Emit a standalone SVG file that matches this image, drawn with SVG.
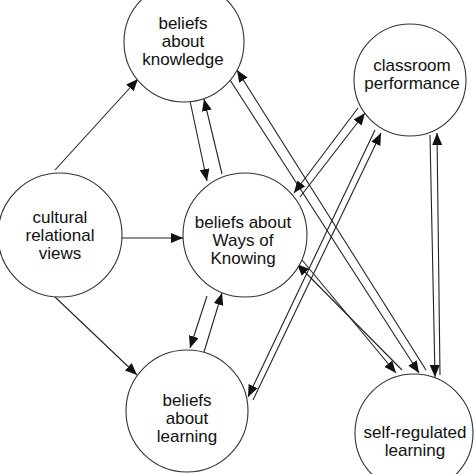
<svg xmlns="http://www.w3.org/2000/svg" width="474" height="474" viewBox="0 0 474 474">
<style>
.node circle{fill:#fff;stroke:#333;stroke-width:1.1}
.node text{font-family:"Liberation Sans",Arial,sans-serif;font-size:17px;fill:#111;text-anchor:middle}
.edges line{stroke:#222;stroke-width:1.1;marker-end:url(#ah)}
</style>
<defs>
<marker id="ah" markerUnits="userSpaceOnUse" markerWidth="12" markerHeight="10" viewBox="0 0 12 10" refX="12" refY="5" orient="auto">
<path d="M0,0 L12,5 L0,10 Z" fill="#111"/>
</marker>
</defs>
<rect width="474" height="474" fill="#fff"/>
<g class="edges" id="connectors">
<line x1="55" y1="170" x2="138" y2="79"/>
<line x1="122" y1="238" x2="183" y2="238"/>
<line x1="55" y1="297" x2="137" y2="375"/>
<line x1="190" y1="101" x2="207" y2="181"/>
<line x1="222" y1="174" x2="204" y2="99"/>
<line x1="207" y1="296" x2="190" y2="348"/>
<line x1="204" y1="352" x2="222" y2="293"/>
<line x1="230" y1="80" x2="419" y2="373"/>
<line x1="426" y1="370" x2="237" y2="70"/>
<line x1="358" y1="108" x2="294" y2="193"/>
<line x1="300" y1="197" x2="365" y2="113"/>
<line x1="375" y1="130" x2="248" y2="397"/>
<line x1="253" y1="400" x2="381" y2="133"/>
<line x1="302" y1="260" x2="396" y2="373"/>
<line x1="402" y1="370" x2="297" y2="264"/>
<line x1="430" y1="135" x2="435" y2="377"/>
<line x1="440" y1="375" x2="437" y2="133"/>
</g>
<g class="node" id="knowledge">
<circle cx="184" cy="42" r="60"/>
<text x="183" y="29">beliefs</text>
<text x="183" y="47">about</text>
<text x="183" y="65">knowledge</text>
</g>
<g class="node" id="classroom">
<circle cx="410" cy="80" r="56"/>
<text x="412" y="71">classroom</text>
<text x="412" y="89">performance</text>
</g>
<g class="node" id="cultural">
<circle cx="60" cy="235" r="62"/>
<text x="60" y="223">cultural</text>
<text x="60" y="241">relational</text>
<text x="60" y="259">views</text>
</g>
<g class="node" id="ways">
<circle cx="245" cy="235" r="62"/>
<text x="243" y="228">beliefs about</text>
<text x="243" y="246">Ways of</text>
<text x="243" y="264">Knowing</text>
</g>
<g class="node" id="learning">
<circle cx="187" cy="411" r="61"/>
<text x="187" y="406">beliefs</text>
<text x="187" y="424">about</text>
<text x="187" y="442">learning</text>
</g>
<g class="node" id="srl">
<circle cx="414" cy="433" r="59"/>
<text x="415" y="438">self-regulated</text>
<text x="415" y="456">learning</text>
</g>
</svg>
